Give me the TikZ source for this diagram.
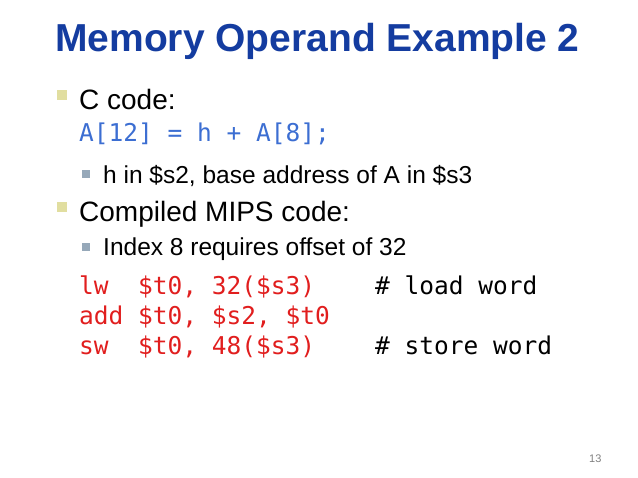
\documentclass[tikz,border=0pt]{standalone}
\usepackage{fontspec}
\setmainfont{Liberation Sans}
\newfontfamily\codefont{DejaVu Sans Mono}
\definecolor{titleblue}{RGB}{20,60,160}
\definecolor{codeblue}{RGB}{60,110,210}
\definecolor{codered}{RGB}{225,30,30}
\definecolor{bulyel}{RGB}{225,222,160}
\definecolor{bulgray}{RGB}{150,168,185}
\begin{document}
\begin{tikzpicture}[x=1pt,y=-1pt,
  txt/.style={anchor=base west,inner sep=0pt},
  lvl1/.style={txt,font=\fontsize{28}{32}\selectfont},
  lvl2/.style={txt,font=\fontsize{24.5}{28}\selectfont},
  code/.style={txt,font=\codefont\fontsize{24.5}{28}\selectfont},
  b1/.style={fill=bulyel,draw=none},
  b2/.style={fill=bulgray,draw=none}]
\useasboundingbox[fill=white] (0,0) rectangle (638,478);
\node[txt,font=\bfseries\fontsize{39}{44}\selectfont,text=titleblue] (title) at (55,52) {Memory Operand Example 2};
\fill[b1] (57,90) rectangle (67,100);
\node[lvl1] (c) at (79,110) {C code:};
\node[code,text=codeblue] (ccode) at (79,142) {A[12] = h + A[8];};
\fill[b2] (82,170) rectangle (90,178);
\node[lvl2] (h) at (103,184) {h in \$s2, base address of A in \$s3};
\fill[b1] (57,202) rectangle (67,212);
\node[lvl1] (mips) at (79,222) {Compiled MIPS code:};
\fill[b2] (82,243) rectangle (90,251);
\node[lvl2] (idx) at (103,256) {Index 8 requires offset of 32};
\node[code,text=codered] (l1) at (79,295) {lw\ \ \$t0, 32(\$s3)};
\node[code] (c1) at (375,295) {\# load word};
\node[code,text=codered] (l2) at (79,325) {add \$t0, \$s2, \$t0};
\node[code,text=codered] (l3) at (79,355) {sw\ \ \$t0, 48(\$s3)};
\node[code] (c3) at (375,355) {\# store word};
\node[txt,font=\fontsize{11}{13}\selectfont,text=gray] (pg) at (589,463) {13};
\end{tikzpicture}
\end{document}
